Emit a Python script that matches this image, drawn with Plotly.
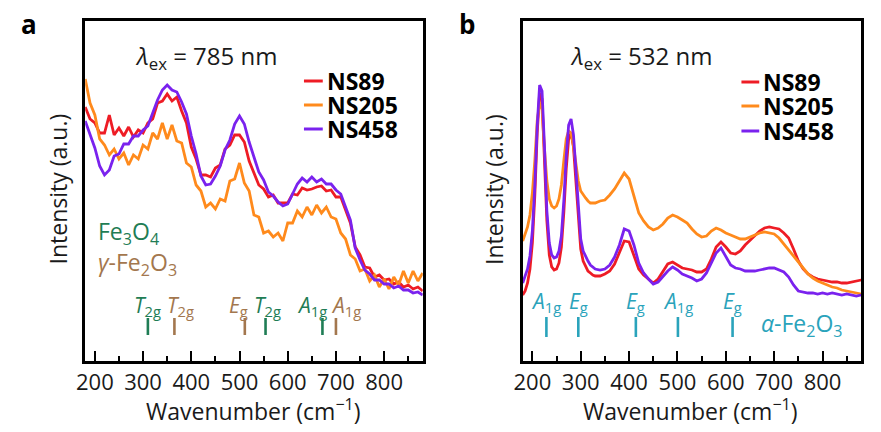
import plotly.graph_objects as go

# ---------------- data ----------------
wn_a = list(range(180, 881, 10))
ns89_a = [254, 242, 238, 228, 228, 246, 226, 233, 225, 234,
          224, 231, 228, 238, 242, 258, 260, 267, 260, 264,
          250, 238, 214, 202, 186, 186, 184, 193, 196, 212,
          216, 226, 226, 219, 200, 188, 176, 172, 164, 166,
          158, 158, 158, 167, 166, 173, 171, 172, 174, 175,
          170, 171, 164, 164, 150, 138, 114, 106, 94, 93,
          84, 86, 81, 82, 77, 79, 74, 76, 72, 74,
          70]
ns205_a = [282, 258, 246, 222, 216, 206, 212, 202, 208, 196,
           206, 202, 216, 212, 228, 222, 238, 222, 236, 220,
           218, 198, 194, 176, 170, 154, 158, 152, 162, 160,
           180, 182, 198, 178, 170, 146, 144, 128, 130, 124,
           128, 120, 138, 138, 150, 144, 154, 146, 156, 148,
           154, 144, 142, 128, 122, 106, 102, 90, 92, 80,
           86, 74, 82, 72, 84, 76, 90, 78, 90, 80,
           88]
ns458_a = [240, 227, 213, 195, 186, 191, 205, 207, 217, 217,
           225, 225, 231, 235, 247, 261, 271, 276, 271, 269,
           259, 247, 225, 207, 185, 176, 177, 185, 195, 211,
           221, 237, 245, 237, 219, 205, 189, 181, 169, 165,
           159, 155, 157, 167, 177, 183, 179, 184, 179, 182,
           177, 177, 171, 167, 155, 141, 113, 101, 91, 87,
           81, 81, 77, 77, 73, 75, 71, 71, 68, 69,
           66]

wn_b = list(range(180, 331, 5)) + list(range(340, 881, 10))
ns89_b = [66, 70, 78, 92, 118, 165, 228, 268, 262, 205, 140, 106, 94, 91, 92, 98, 114, 148, 192, 222, 228, 214,
          180, 140, 112, 100, 94, 90, 88, 86, 85,
          85, 87, 90, 97, 108, 120, 119, 106, 92, 86, 82, 78, 82, 90, 97, 99, 96, 93, 92, 91, 89, 89, 92, 102,
          114, 119, 114, 108, 107, 110, 116, 121, 126, 130, 133, 134, 133, 132, 128, 123, 112, 100, 92, 87, 84,
          82, 81, 80, 79, 79, 78, 78, 79, 80, 81]
ns205_b = [120, 126, 134, 146, 168, 200, 240, 258, 252, 212, 180, 162, 155, 153, 155, 162, 176, 200, 222, 230,
           228, 215, 196, 180, 170, 166, 163, 160, 158, 158, 158,
           160, 161, 166, 172, 180, 188, 182, 166, 148, 140, 134, 131, 133, 137, 143, 146, 144, 141, 138, 132,
           127, 124, 125, 130, 133, 131, 128, 126, 124, 122, 122, 124, 126, 128, 129, 128, 127, 123, 117, 110,
           104, 98, 92, 87, 83, 80, 78, 76, 74, 73, 71, 70, 69, 68, 67]
ns458_b = [78, 84, 92, 105, 130, 175, 235, 276, 270, 215, 150, 118, 106, 103, 104, 110, 125, 160, 205, 236, 242,
           226, 192, 150, 122, 110, 104, 100, 96, 94, 92,
           91, 92, 96, 104, 116, 132, 130, 116, 98, 88, 82, 77, 79, 85, 90, 94, 91, 87, 85, 83, 80, 82, 88, 98,
           108, 113, 104, 96, 93, 92, 90, 90, 90, 91, 92, 93, 93, 91, 89, 84, 76, 70, 69, 68, 68, 67, 68, 67,
           68, 67, 66, 67, 66, 65, 66]

series_names = ["NS89", "NS205", "NS458"]
series_colors = ["#ee1c25", "#ff8a1c", "#7a22ee"]

modes_a_pos = [310, 365, 511, 554, 672, 700]
modes_a_label = ["<i>T</i><sub>2g</sub>", "<i>T</i><sub>2g</sub>", "<i>E</i><sub>g</sub>",
                 "<i>T</i><sub>2g</sub>", "<i>A</i><sub>1g</sub>", "<i>A</i><sub>1g</sub>"]
modes_a_phase = ["Fe3O4", "gFe2O3", "gFe2O3", "Fe3O4", "Fe3O4", "gFe2O3"]
modes_a_shift = [0, 6, -6, 2, -10, 10]
modes_b_pos = [229, 295, 414, 501, 614]
modes_b_label = ["<i>A</i><sub>1g</sub>", "<i>E</i><sub>g</sub>", "<i>E</i><sub>g</sub>",
                 "<i>A</i><sub>1g</sub>", "<i>E</i><sub>g</sub>"]

GREEN = "#1f7d55"
BROWN = "#a3774e"
CYAN = "#2aa3bb"
phase_color = {"Fe3O4": GREEN, "gFe2O3": BROWN}

FONT = "Open Sans"
W, H = 881, 432


def px(x):
    return x / W


def py(y):
    return 1 - y / H


fig = go.Figure()

for col, ya in zip(series_colors, [ns89_a, ns205_a, ns458_a]):
    fig.add_trace(go.Scatter(x=wn_a, y=ya, mode="lines", line=dict(color=col, width=2.8),
                             showlegend=False, xaxis="x", yaxis="y"))
for col, yb in zip(series_colors, [ns89_b, ns205_b, ns458_b]):
    fig.add_trace(go.Scatter(x=wn_b, y=yb, mode="lines", line=dict(color=col, width=2.8),
                             showlegend=False, xaxis="x2", yaxis="y2"))

# mode marker ticks
for p, lab, ph, sh in zip(modes_a_pos, modes_a_label, modes_a_phase, modes_a_shift):
    c = phase_color[ph]
    fig.add_trace(go.Scatter(x=[p, p], y=[26, 43], mode="lines", line=dict(color=c, width=2.6),
                             showlegend=False, xaxis="x", yaxis="y"))
    fig.add_annotation(x=p, y=55, xref="x", yref="y", text=lab, showarrow=False, xshift=sh,
                       font=dict(family=FONT, size=21, color=c), xanchor="center", yanchor="middle")
for p, lab in zip(modes_b_pos, modes_b_label):
    fig.add_trace(go.Scatter(x=[p, p], y=[24, 44], mode="lines", line=dict(color=CYAN, width=2.6),
                             showlegend=False, xaxis="x2", yaxis="y2"))
    fig.add_annotation(x=p, y=59, xref="x2", yref="y2", text=lab, showarrow=False,
                       font=dict(family=FONT, size=21, color=CYAN), xanchor="center", yanchor="middle")

axis_common = dict(range=[180, 880], showline=True, linecolor="black", linewidth=2.6, mirror=True,
                   ticks="inside", ticklen=10, tickwidth=2.2, tickcolor="black", dtick=100, tick0=200,
                   minor=dict(ticks="inside", ticklen=5, tickwidth=2.2, tickcolor="black", dtick=50, tick0=200),
                   showgrid=False, zeroline=False,
                   tickfont=dict(family=FONT, size=22, color="#1a1a1a"))
yaxis_common = dict(range=[0, 340], showline=True, linecolor="black", linewidth=2.6, mirror=True,
                    ticks="", showticklabels=False, showgrid=False, zeroline=False)

fig.update_layout(
    width=W, height=H, margin=dict(l=0, r=0, t=0, b=0),
    paper_bgcolor="white", plot_bgcolor="white",
    xaxis=dict(domain=[px(77), px(418)], anchor="y", **axis_common),
    yaxis=dict(domain=[py(361), py(21)], anchor="x", **yaxis_common),
    xaxis2=dict(domain=[px(519), px(861)], anchor="y2", **axis_common),
    yaxis2=dict(domain=[py(361), py(21)], anchor="x2", **yaxis_common),
    showlegend=False,
)

texts = [
    (20, 24, "<b>a</b>", 26, "black", "center"),
    (463, 24, "<b>b</b>", 26, "black", "center"),
    (125, 57, "<i>λ</i><sub>ex</sub> = 785 nm", 24, "#1a1a1a", "left"),
    (565, 57, "<i>λ</i><sub>ex</sub> = 532 nm", 24, "#1a1a1a", "left"),
    (247, 410, "Wavenumber (cm<sup>−1</sup>)", 23, "#1a1a1a", "center"),
    (689, 410, "Wavenumber (cm<sup>−1</sup>)", 23, "#1a1a1a", "center"),
    (88, 232, "Fe<sub>3</sub>O<sub>4</sub>", 23, GREEN, "left"),
    (88, 263, "<i>γ</i>-Fe<sub>2</sub>O<sub>3</sub>", 23, BROWN, "left"),
    (758, 324, "<i>α</i>-Fe<sub>2</sub>O<sub>3</sub>", 23, CYAN, "left"),
]
for x, y, t, s, c, anc in texts:
    fig.add_annotation(x=px(x), y=py(y), xref="paper", yref="paper", text=t, showarrow=False,
                       font=dict(family=FONT, size=s, color=c), xanchor=anc, yanchor="middle")

for x in (50, 490):
    fig.add_annotation(x=px(x), y=py(189), xref="paper", yref="paper", text="Intensity (a.u.)",
                       showarrow=False, textangle=-90, font=dict(family=FONT, size=23, color="#1a1a1a"),
                       xanchor="center", yanchor="middle")

# legends
legend_rows = {"a": (298, 317, 320, [81, 105, 129]), "b": (740, 758, 761, [82, 106, 131])}
for key, (x0, x1, xt, ys) in legend_rows.items():
    for name, col, y in zip(series_names, series_colors, ys):
        fig.add_shape(type="line", xref="paper", yref="paper", x0=px(x0), x1=px(x1), y0=py(y), y1=py(y),
                      line=dict(color=col, width=3))
        fig.add_annotation(x=px(xt), y=py(y), xref="paper", yref="paper", text=f"<b>{name}</b>",
                           showarrow=False, font=dict(family=FONT, size=23, color="black"),
                           xanchor="left", yanchor="middle", borderpad=0)

fig.write_html("out.html")
